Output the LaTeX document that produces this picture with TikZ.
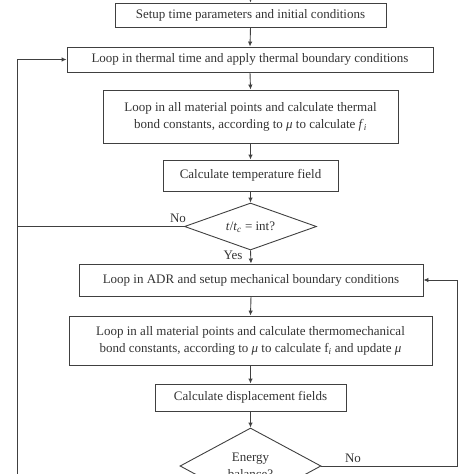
\documentclass[tikz,border=0pt]{standalone}
\usepackage{fontspec}
\setmainfont{Liberation Serif}
\usetikzlibrary{shapes.geometric,arrows.meta}
\definecolor{ln}{gray}{0.25}
\definecolor{tx}{gray}{0.2}
\tikzset{
  box/.style={draw=ln, line width=0.9pt, rectangle, inner sep=0pt, align=center, text=tx},
  dia/.style={draw=ln, line width=0.9pt, diamond, inner sep=0pt, align=center, text=tx},
  conn/.style={draw=ln, line width=0.9pt, -{Latex[length=5pt,width=4.5pt]}},
  plain/.style={draw=ln, line width=0.9pt},
  lab/.style={text=tx, inner sep=0pt}
}
\begin{document}
\begin{tikzpicture}[x=1pt,y=-1pt,font=\fontsize{13}{17}\selectfont]
\useasboundingbox (0,0) rectangle (474,474);
\clip (0,0) rectangle (474,474);
\node[box, minimum width=271pt, minimum height=24pt] (b1) at (250.5,15) {Setup time parameters and initial conditions};
\node[box, minimum width=366pt, minimum height=25pt] (b2) at (250,59.5) {Loop in thermal time and apply thermal boundary conditions};
\node[box, minimum width=295pt, minimum height=53pt] (b3) at (250.5,116.5) {Loop in all material points and calculate thermal\\bond constants, according to \textit{μ} to calculate \textit{f}\textsubscript{\textit{i}}};
\node[box, minimum width=175pt, minimum height=31pt] (b4) at (250.5,175.5) {Calculate temperature field};
\node[dia, minimum width=132pt, minimum height=47pt] (d1) at (250.5,226.5) {};
\node[lab] (d1t) at (250.5,227) {\textit{t}/\textit{t}\textsubscript{\textit{c}} = int?};
\node[box, minimum width=344pt, minimum height=32pt] (b5) at (251,280) {Loop in ADR and setup mechanical boundary conditions};
\node[box, minimum width=363pt, minimum height=49pt] (b6) at (250.5,340.5) {Loop in all material points and calculate thermomechanical\\bond constants, according to \textit{μ} to calculate f\textsubscript{\textit{i}} and update \textit{μ}};
\node[box, minimum width=191pt, minimum height=27pt] (b7) at (250.5,397.5) {Calculate displacement fields};
\node[dia, minimum width=141pt, minimum height=76pt] (d2) at (250.5,466) {};
\node[lab, align=center] (d2t) at (250.5,465.5) {Energy\\balance?};
\node[lab] (no1) at (178,218) {No};
\node[lab] (yes1) at (233,255) {Yes};
\node[lab] (no2) at (353,458) {No};
\coordinate (top) at (250,-20);
\coordinate (lb) at (17,500);
\coordinate (rl) at (457,466);
\draw[conn] (top) -- (b1.north);
\draw[conn] (b1.south) -- (b2.north);
\draw[conn] (b2.south) -- (b3.north);
\draw[conn] (b3.south) -- (b4.north);
\draw[conn] (b4.south) -- (d1.north);
\draw[conn] (d1.south) -- (b5.north);
\draw[conn] (b5.south) -- (b6.north);
\draw[conn] (b6.south) -- (b7.north);
\draw[conn] (b7.south) -- (d2.north);
\draw[conn] (lb) |- (b2.west);
\draw[plain] (d1.west) -- (d1.west -| lb);
\draw[conn] (d2.east) -- (rl) |- (b5.east);
\end{tikzpicture}
\end{document}
